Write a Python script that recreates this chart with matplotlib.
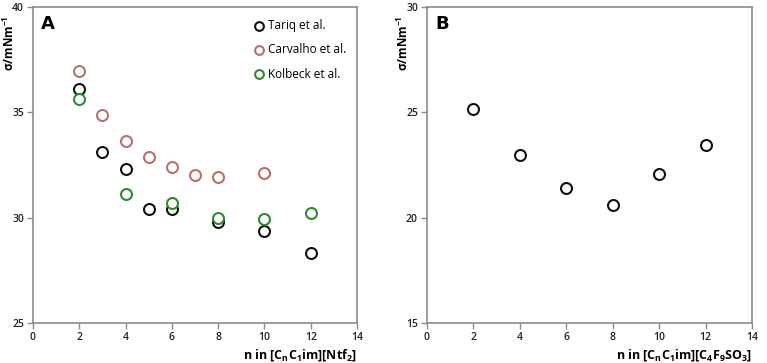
import numpy as np
import matplotlib
matplotlib.use("Agg")
import matplotlib.pyplot as plt

plt.rcParams['font.family'] = ['Open Sans', 'DejaVu Sans']
plt.rcParams['mathtext.fontset'] = 'custom'
plt.rcParams['mathtext.rm'] = 'Open Sans'
plt.rcParams['mathtext.bf'] = 'Open Sans:bold'
plt.rcParams['mathtext.it'] = 'Open Sans:italic'

# Panel A: [CnC1im][Ntf2]
n_tariq = [2, 3, 4, 5, 6, 8, 10, 12]
s_tariq = [36.1, 33.13, 32.3, 30.4, 30.42, 29.78, 29.35, 28.34]
n_carvalho = [2, 3, 4, 5, 6, 7, 8, 10]
s_carvalho = [36.98, 34.88, 33.62, 32.9, 32.42, 32.04, 31.95, 32.14]
n_kolbeck = [2, 4, 6, 8, 10, 12]
s_kolbeck = [35.62, 31.12, 30.72, 30.0, 29.94, 30.24]

# Panel B: [CnC1im][C4F9SO3]
n_b = [2, 4, 6, 8, 10, 12]
s_b = [25.17, 22.96, 21.43, 20.59, 22.07, 23.43]

GRIS = '#8c8c8c'
COR_TARIQ = '#111111'
COR_CARVALHO = '#b87070'
COR_KOLBECK = '#2f8a2f'

fig = plt.figure(figsize=(7.67, 3.63), dpi=100)
ax_a = fig.add_axes([0.043, 0.110, 0.4225, 0.871])
ax_b = fig.add_axes([0.5567, 0.110, 0.4237, 0.871])


def estilo(ax, ylim, yticks):
    ax.set_xlim(0, 14)
    ax.set_ylim(*ylim)
    ax.set_xticks(range(0, 15, 2))
    ax.set_yticks(yticks)
    for lado in ax.spines.values():
        lado.set_color(GRIS)
        lado.set_linewidth(1.2)
    ax.tick_params(colors=GRIS, labelcolor='#222222', labelsize=7.5, length=4, width=1, pad=2.5)
    for lbl in ax.get_xticklabels() + ax.get_yticklabels():
        lbl.set_fontweight('semibold')


mk = dict(marker='o', s=62, facecolors='white', linewidths=1.5, zorder=3)
ax_a.scatter(n_carvalho, s_carvalho, edgecolors=COR_CARVALHO, label='Carvalho et al.', **mk)
ax_a.scatter(n_tariq, s_tariq, edgecolors=COR_TARIQ, label='Tariq et al.', **mk)
ax_a.scatter(n_kolbeck, s_kolbeck, edgecolors=COR_KOLBECK, label='Kolbeck et al.', **mk)
estilo(ax_a, (25, 40), [25, 30, 35, 40])

handles, labels = ax_a.get_legend_handles_labels()
ordem = [1, 0, 2]
leg = ax_a.legend([handles[i] for i in ordem], [labels[i] for i in ordem],
                  loc='upper right', bbox_to_anchor=(1.0, 0.995), frameon=False,
                  handletextpad=-0.2, labelspacing=0.95, fontsize=8.5, markerscale=0.8)

ax_b.scatter(n_b, s_b, edgecolors=COR_TARIQ, **mk)
estilo(ax_b, (15, 30), [15, 20, 25, 30])

for ax, letra, xlabel in [(ax_a, 'A', r'n in [C$_\mathbf{n}$C$_\mathbf{1}$im][Ntf$_\mathbf{2}$]'),
                          (ax_b, 'B', r'n in [C$_\mathbf{n}$C$_\mathbf{1}$im][C$_\mathbf{4}$F$_\mathbf{9}$SO$_\mathbf{3}$]')]:
    ax.text(0.025, 0.975, letra, transform=ax.transAxes, ha='left', va='top',
            fontsize=13, fontweight='bold', family='DejaVu Sans')
    ax.text(1.0, -0.075, xlabel, transform=ax.transAxes, ha='right', va='top',
            fontsize=9, fontweight='bold')
    ax.text(-0.072, 0.885, r'σ/mNm$^{\mathbf{-1}}$', transform=ax.transAxes, ha='center', va='center',
            rotation=90, fontsize=8.5, fontweight='bold')

fig.savefig('out.png', dpi=100)
